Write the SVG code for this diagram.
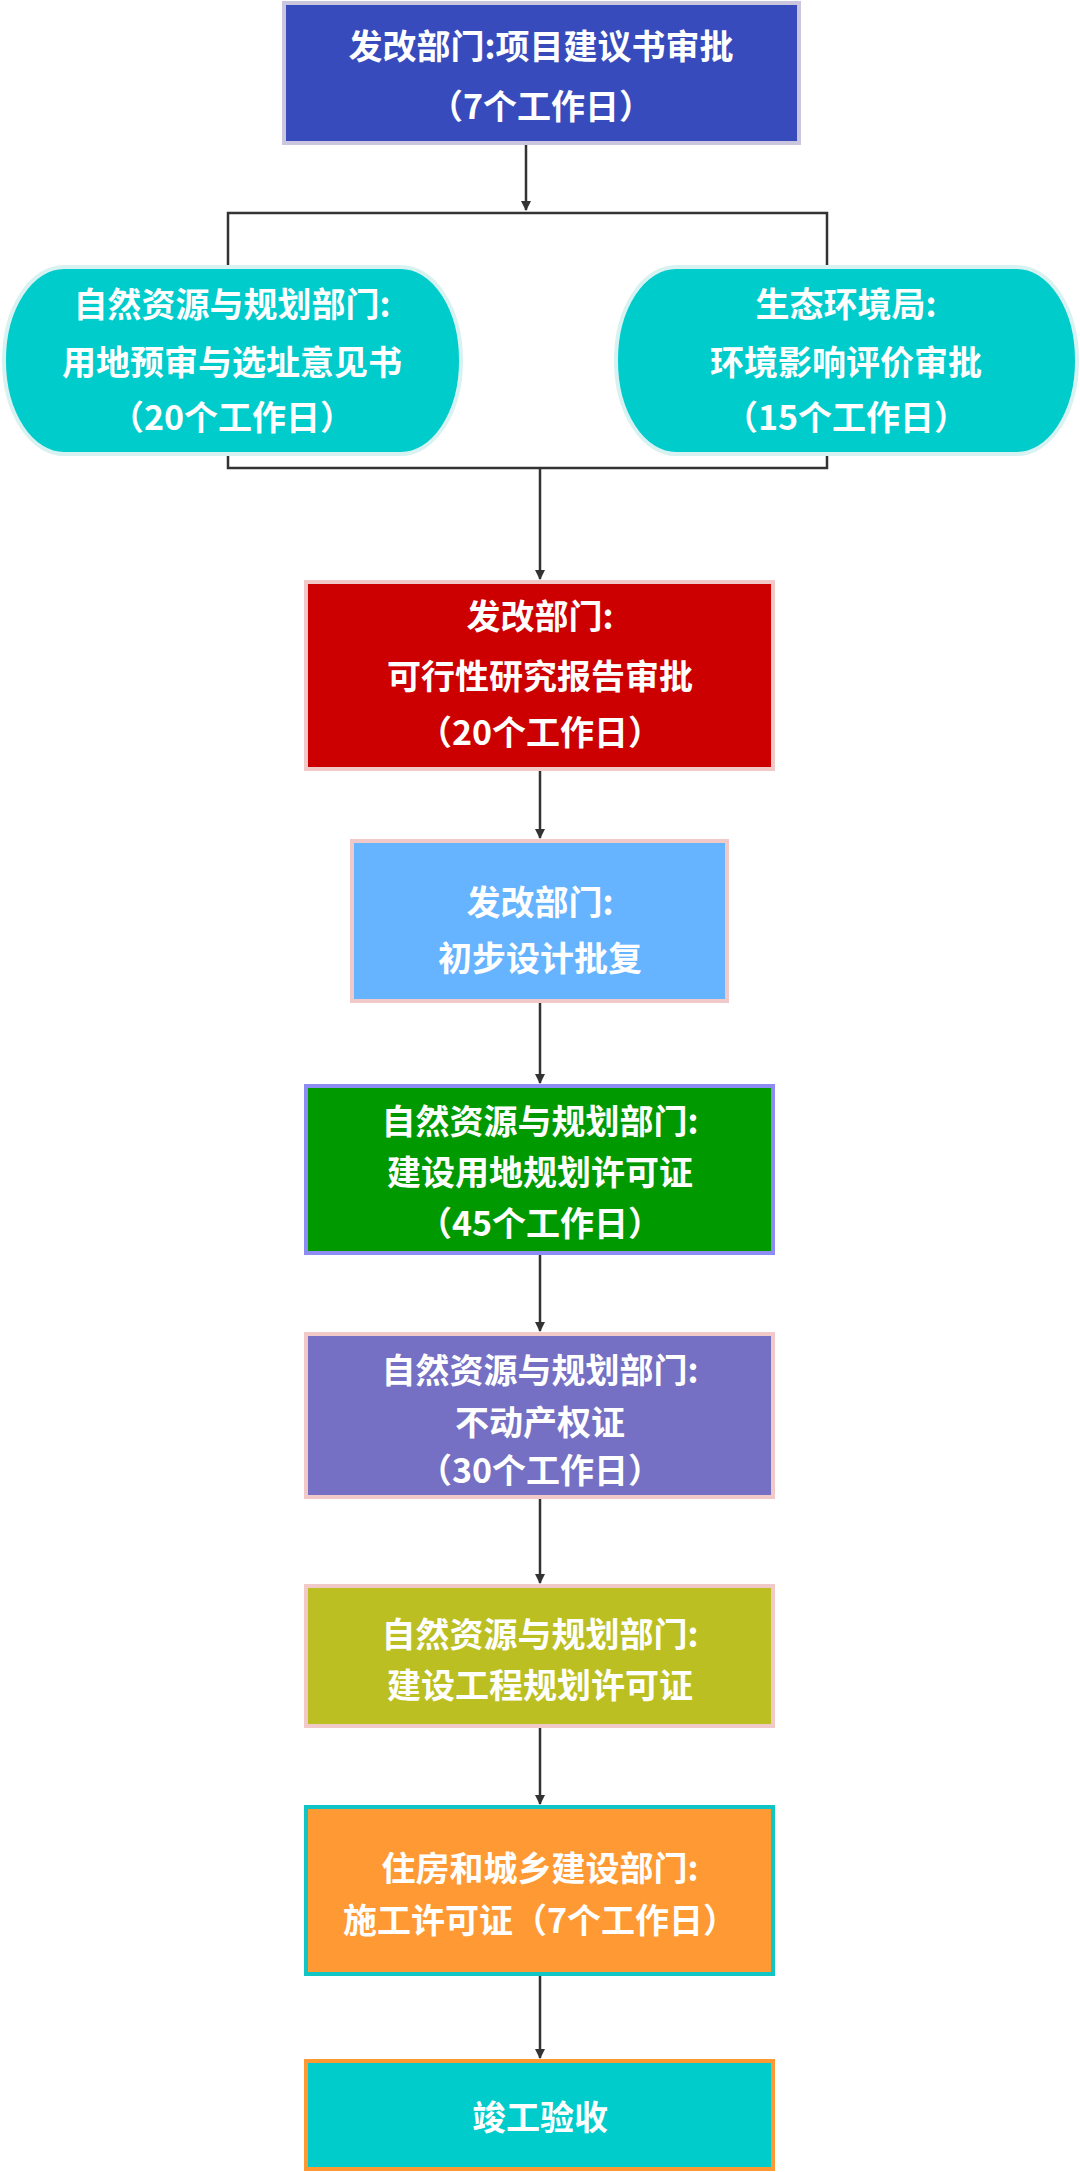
<svg xmlns="http://www.w3.org/2000/svg" width="1080" height="2172" viewBox="0 0 1080 2172">
<defs>
<marker id="ah" markerWidth="10" markerHeight="10" refX="9" refY="5" orient="auto" markerUnits="userSpaceOnUse" viewBox="0 0 10 10"><path d="M0,0 L10,5 L0,10 z" fill="#333"/></marker>
<style>
text{font-family:"Noto Sans CJK SC","Noto Sans",sans-serif;font-weight:bold;font-size:34px;fill:#fff;text-anchor:middle;dominant-baseline:central}
.c{fill:none;stroke:#333;stroke-width:2.5}
.b{stroke-width:4}
</style>
</defs>
<rect width="1080" height="2172" fill="#fff"/>
<g id="connectors">
<path class="c" d="M526,143 V210" marker-end="url(#ah)"/>
<path class="c" d="M228,267 V213 H827 V267"/>
<path class="c" d="M228,454 V468 H827 V454"/>
<path class="c" d="M540,468 V579" marker-end="url(#ah)"/>
<path class="c" d="M540,769 V838" marker-end="url(#ah)"/>
<path class="c" d="M540,1001 V1083" marker-end="url(#ah)"/>
<path class="c" d="M540,1253 V1331" marker-end="url(#ah)"/>
<path class="c" d="M540,1497 V1583" marker-end="url(#ah)"/>
<path class="c" d="M540,1726 V1804" marker-end="url(#ah)"/>
<path class="c" d="M540,1974 V2058" marker-end="url(#ah)"/>
</g>
<g id="n1"><rect class="b" x="284" y="3" width="515" height="140" fill="#374bbd" stroke="#c9c6de"/><text x="541" y="44">发改部门:项目建议书审批</text><text x="541" y="104">（7个工作日）</text></g>
<g id="n2"><rect class="b" x="4" y="267" width="457" height="187" rx="60" ry="93" fill="#00cccc" stroke="#d8f2f2"/><text x="232" y="302">自然资源与规划部门:</text><text x="232" y="360">用地预审与选址意见书</text><text x="232" y="415">（20个工作日）</text></g>
<g id="n3"><rect class="b" x="616" y="267" width="461" height="187" rx="60" ry="93" fill="#00cccc" stroke="#d8f2f2"/><text x="846" y="302">生态环境局:</text><text x="846" y="360">环境影响评价审批</text><text x="846" y="415">（15个工作日）</text></g>
<g id="n4"><rect class="b" x="306" y="582" width="467" height="187" fill="#cc0000" stroke="#f2c9c9"/><text x="540" y="614">发改部门:</text><text x="540" y="674">可行性研究报告审批</text><text x="540" y="730">（20个工作日）</text></g>
<g id="n5"><rect class="b" x="352" y="841" width="375" height="160" fill="#66b3ff" stroke="#f2c9c9"/><text x="540" y="900">发改部门:</text><text x="540" y="956">初步设计批复</text></g>
<g id="n6"><rect class="b" x="306" y="1086" width="467" height="167" fill="#009900" stroke="#8c8cf2"/><text x="540" y="1119">自然资源与规划部门:</text><text x="540" y="1170">建设用地规划许可证</text><text x="540" y="1221">（45个工作日）</text></g>
<g id="n7"><rect class="b" x="306" y="1334" width="467" height="163" fill="#7570c4" stroke="#f2c9c9"/><text x="540" y="1368">自然资源与规划部门:</text><text x="540" y="1420">不动产权证</text><text x="540" y="1468">（30个工作日）</text></g>
<g id="n8"><rect class="b" x="306" y="1586" width="467" height="140" fill="#bbbf22" stroke="#f2c9c9"/><text x="540" y="1632">自然资源与规划部门:</text><text x="540" y="1683">建设工程规划许可证</text></g>
<g id="n9"><rect class="b" x="306" y="1807" width="467" height="167" fill="#ff9933" stroke="#11c5c5"/><text x="540" y="1866">住房和城乡建设部门:</text><text x="540" y="1918">施工许可证（7个工作日）</text></g>
<g id="n10"><rect class="b" x="306" y="2061" width="467" height="108" fill="#00cccc" stroke="#ff9933"/><text x="540" y="2115">竣工验收</text></g>
</svg>
